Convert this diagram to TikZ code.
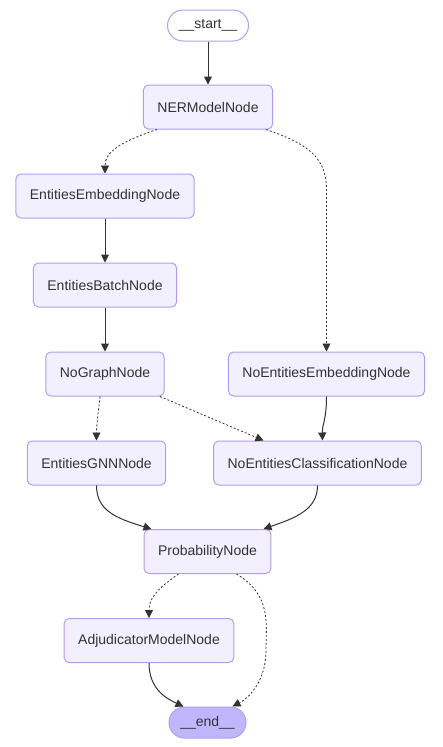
\documentclass[tikz,border=0pt]{standalone}
\usepackage{fontspec}
\setmainfont{Liberation Sans}
\usetikzlibrary{arrows.meta}
\definecolor{nodefill}{HTML}{F2F0FF}
\definecolor{nodeline}{HTML}{B39DF0}
\definecolor{endfill}{HTML}{BFB6FC}
\definecolor{edgecol}{HTML}{333333}
\begin{document}
\begin{tikzpicture}[x=1pt,y=-1pt,
                box/.style={draw=nodeline,fill=nodefill,line width=1pt,
                    rounded corners=5pt,minimum height=44pt,inner xsep=14pt,
                    text=edgecol,font=\fontsize{14}{16}\selectfont},
                term/.style={box,rounded corners=15.5pt,minimum height=31pt,inner xsep=6pt},
                edge/.style={draw=edgecol,line width=1pt,-{Triangle[length=8pt,width=8pt]}},
                cond/.style={edge,line width=0.8pt,dash pattern=on 2pt off 2pt}]
                \useasboundingbox (0,0) rectangle (443,747);
                \node[term,fill=white,minimum width=81pt](start) at (208,25.5) {\_\_start\_\_};
                \node[box](ner) at (208,107) {NERModelNode};
                \node[box](entemb) at (105,196) {EntitiesEmbeddingNode};
                \node[box](entbatch) at (105,285) {EntitiesBatchNode};
                \node[box](nograph) at (105,374) {NoGraphNode};
                \node[box](noentemb) at (326.5,374) {NoEntitiesEmbeddingNode};
                \node[box](entgnn) at (96.5,463) {EntitiesGNNNode};
                \node[box](noentcls) at (317.5,463) {NoEntitiesClassificationNode};
                \node[box](prob) at (207.5,551.5) {ProbabilityNode};
                \node[box](adjud) at (149,640.5) {AdjudicatorModelNode};
                \node[term,fill=endfill,minimum width=77pt](end) at (207.5,722.5) {\_\_end\_\_};
                \draw[edge] (start) -- (ner);
                \draw[cond] ([xshift=-51pt]ner.south) .. controls (120,142) and (105,152) .. (entemb.north);
                \draw[cond] ([xshift=58pt]ner.south) .. controls (312,145) and (326.5,160) .. (326.5,190) -- (noentemb.north);
                \draw[edge] (entemb) -- (entbatch);
                \draw[edge] (entbatch) -- (nograph);
                \draw[cond] ([xshift=-5pt]nograph.south) .. controls (98,415) and (96.5,425) .. (entgnn.north);
                \draw[cond] ([xshift=55pt]nograph.south) -- ([xshift=-54pt]noentcls.north);
                \draw[edge] (noentemb.south) .. controls (326.5,420) and (322,425) .. ([xshift=5pt]noentcls.north);
                \draw[edge] (entgnn.south) .. controls (96.5,510) and (115,518) .. ([xshift=-56pt]prob.north);
                \draw[edge] (noentcls.south) .. controls (317.5,510) and (295,518) .. ([xshift=56pt]prob.north);
                \draw[cond] ([xshift=-29pt]prob.south) .. controls (155,590) and (149,600) .. (adjud.north);
                \draw[cond] ([xshift=29pt]prob.south) .. controls (272,595) and (266,625) .. (266,650) .. controls (266,685) and (245,700) .. ([xshift=25pt]end.north);
                \draw[edge] (adjud.south) .. controls (149,688) and (165,698) .. ([xshift=-24pt]end.north);
            \end{tikzpicture}
\end{document}
